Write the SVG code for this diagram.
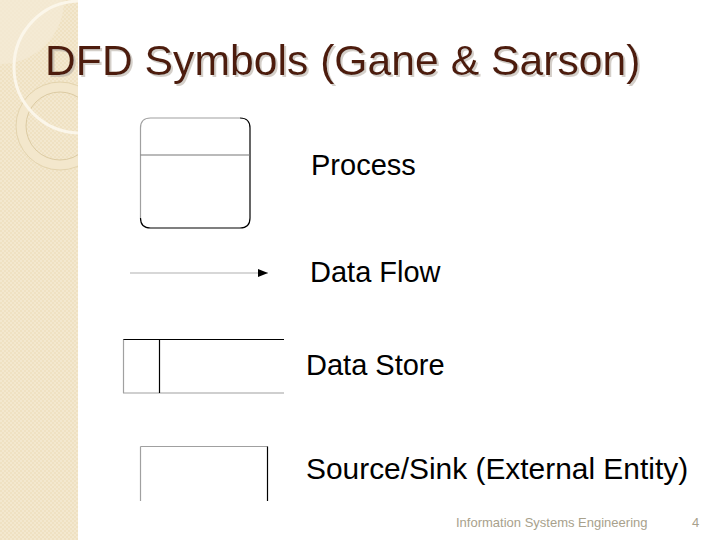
<svg xmlns="http://www.w3.org/2000/svg" width="720" height="540" viewBox="0 0 720 540">
  <defs>
    <pattern id="chk" width="4" height="4" patternUnits="userSpaceOnUse">
      <rect width="4" height="4" fill="#efe1c2"/>
      <rect width="2" height="2" fill="#f3e8cf"/>
      <rect x="2" y="2" width="2" height="2" fill="#f3e8cf"/>
    </pattern>
    <clipPath id="band"><rect x="0" y="0" width="78" height="540"/></clipPath>
    <filter id="shadow" x="-5%" y="-20%" width="110%" height="140%">
      <feDropShadow dx="2" dy="2" stdDeviation="0.6" flood-color="#b8aea4" flood-opacity="0.6"/>
    </filter>
    <marker id="arr" viewBox="0 0 10 8" refX="10" refY="4" markerWidth="10" markerHeight="8" markerUnits="userSpaceOnUse" orient="auto">
      <path d="M0,0 L10,4 L0,8 Z" fill="#000"/>
    </marker>
    <style>
      .lbl { font-family: "Liberation Sans", Arial, sans-serif; font-size: 29px; fill: #000; }
      .ttl { font-family: "Liberation Sans", Arial, sans-serif; font-size: 42.7px; fill: #4d1e0e; }
      .ft { font-family: "Liberation Sans", Arial, sans-serif; font-size: 13px; fill: #a8a18c; }
      .lt { stroke: #a0a0a0; stroke-width: 1.2; fill: none; }
      .dk { stroke: #000; stroke-width: 1.2; fill: none; }
    </style>
  </defs>
  <rect width="720" height="540" fill="#fff"/>
  <g id="background" clip-path="url(#band)">
    <rect x="0" y="0" width="78" height="540" fill="url(#chk)"/>
    <circle cx="0" cy="0" r="64" fill="#f4ead5" opacity="0.8"/>
    <circle cx="60" cy="126" r="44" fill="#f3e7cc" stroke="#e3d3ad" stroke-width="1"/>
    <circle cx="60" cy="126" r="34" fill="url(#chk)" stroke="#dccba3" stroke-width="1"/>
    <circle cx="80" cy="67" r="66" fill="none" stroke="#fbf6ea" stroke-width="3"/>
  </g>
  <g id="title">
    <text class="ttl" x="45" y="75" filter="url(#shadow)">DFD Symbols (Gane &amp; Sarson)</text>
  </g>
  <g id="process">
    <path class="lt" d="M140.5,218 V128 Q140.5,118 150.5,118 H240"/>
    <path class="dk" d="M240,118 Q250,118 250,128 V218 Q250,228 240,228 H150.5 Q140.5,228 140.5,218"/>
    <line x1="140.5" y1="155" x2="250" y2="155" stroke="#777" stroke-width="1.2"/>
    <text class="lbl" x="311" y="175">Process</text>
  </g>
  <g id="connectors">
    <line x1="130" y1="273" x2="268" y2="273" stroke="#b0b0b0" stroke-width="1.2" marker-end="url(#arr)"/>
  </g>
  <g id="dataflow">
    <text class="lbl" x="310" y="282">Data Flow</text>
  </g>
  <g id="datastore">
    <line class="dk" x1="123" y1="339.5" x2="284" y2="339.5"/>
    <line class="lt" x1="123" y1="393" x2="284" y2="393"/>
    <line class="lt" x1="123.5" y1="339.5" x2="123.5" y2="393"/>
    <line class="dk" x1="159.5" y1="339.5" x2="159.5" y2="393"/>
    <text class="lbl" x="306" y="375">Data Store</text>
  </g>
  <g id="sourcesink">
    <line class="lt" x1="140.5" y1="446.5" x2="267.5" y2="446.5"/>
    <line class="lt" x1="140.5" y1="446.5" x2="140.5" y2="501"/>
    <line class="dk" x1="267.5" y1="446.5" x2="267.5" y2="501"/>
    <text class="lbl" x="306" y="479" style="font-size:29.9px">Source/Sink (External Entity)</text>
  </g>
  <g id="footer">
    <text class="ft" x="456" y="527">Information Systems Engineering</text>
    <text class="ft" x="692" y="527">4</text>
  </g>
</svg>
